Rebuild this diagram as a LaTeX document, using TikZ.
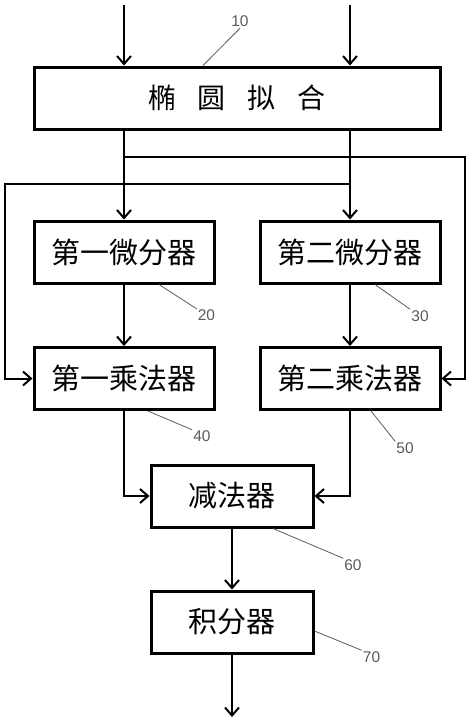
\documentclass[tikz,border=0pt]{standalone}
\usepackage{fontspec}
\usetikzlibrary{arrows.meta}
\newfontfamily\cjk{Noto Sans CJK SC}
\newfontfamily\numfont{Liberation Sans}
\definecolor{leadcolor}{RGB}{90,90,90}

\tikzset{
    >={Straight Barb[length=8pt,width=14pt]},
    block/.style={draw, line width=3pt, inner sep=0pt, minimum height=62pt, font=\cjk\fontsize{29}{30}\selectfont},
    wire/.style={line width=2pt},
    leader/.style={leadcolor, line width=0.8pt},
    num/.style={leadcolor, inner sep=1pt, font=\numfont\fontsize{15.5}{16}\selectfont}
}

\begin{document}
\begin{tikzpicture}[x=1pt, y=-1pt]
    \useasboundingbox (0,0) rectangle (474,721);

    % blocks
    \node[block, minimum width=406pt, font=\cjk\fontsize{28}{30}\selectfont] (fit) at (237, 98) {椭\hspace{22pt}圆\hspace{22pt}拟\hspace{22pt}合};
    \node[block, minimum width=180pt] (diff1) at (124, 252) {第一微分器};
    \node[block, minimum width=180pt] (diff2) at (350, 252) {第二微分器};
    \node[block, minimum width=180pt] (mul1) at (124, 378.5) {第一乘法器};
    \node[block, minimum width=180pt] (mul2) at (350, 378.5) {第二乘法器};
    \node[block, minimum width=162pt] (sub) at (232, 496) {减法器};
    \node[block, minimum width=162pt] (int) at (232, 622) {积分器};

    % free ends and bends
    \coordinate (in1) at (124, 5);
    \coordinate (in2) at (350, 5);
    \coordinate (out) at (232, 717);
    \coordinate (br1) at (124, 157);
    \coordinate (br2) at (350, 184);
    \coordinate (fbL) at (5, 0);
    \coordinate (fbR) at (465, 0);

    % signal flow
    \draw[wire, ->] (in1) -- (in1 |- fit.north);
    \draw[wire, ->] (in2) -- (in2 |- fit.north);
    \draw[wire, ->] (fit.south -| diff1) -- (diff1.north);
    \draw[wire, ->] (fit.south -| diff2) -- (diff2.north);
    \draw[wire, ->] (br1) -- (br1 -| fbR) |- (mul2.east);
    \draw[wire, ->] (br2) -- (br2 -| fbL) |- (mul1.west);
    \draw[wire, ->] (diff1.south) -- (mul1.north);
    \draw[wire, ->] (diff2.south) -- (mul2.north);
    \draw[wire, ->] (mul1.south) |- (sub.west);
    \draw[wire, ->] (mul2.south) |- (sub.east);
    \draw[wire, ->] (sub.south) -- (int.north);
    \draw[wire, ->] (int.south) -- (out);

    % reference numerals
    \node[num] (n10) at (240, 21.5) {10};
    \node[num] (n20) at (206.5, 315.5) {20};
    \node[num] (n30) at (420, 316) {30};
    \node[num] (n40) at (202, 436.5) {40};
    \node[num] (n50) at (405, 448) {50};
    \node[num] (n60) at (353, 565) {60};
    \node[num] (n70) at (371.5, 657) {70};

    \draw[leader] ([xshift=-34pt]fit.north) -- (n10.south);
    \draw[leader] ([xshift=35pt]diff1.south) -- (n20.north west);
    \draw[leader] ([xshift=25pt]diff2.south) -- (n30.north west);
    \draw[leader] ([xshift=24pt]mul1.south) -- (n40.north west);
    \draw[leader] ([xshift=21pt]mul2.south) -- (n50.north west);
    \draw[leader] ([xshift=41pt]sub.south) -- (n60.north west);
    \draw[leader] ([yshift=-9pt]int.east) -- (n70.north west);
\end{tikzpicture}
\end{document}
